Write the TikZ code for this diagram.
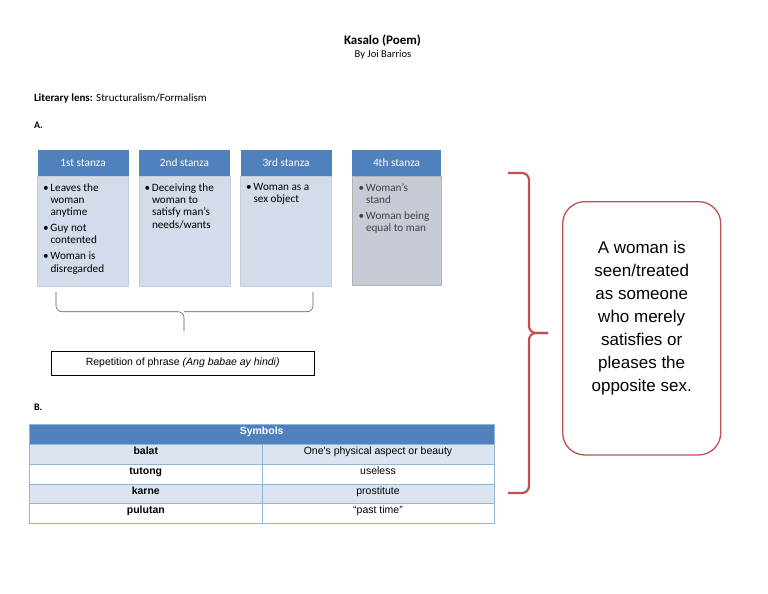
\documentclass[tikz,border=0pt]{standalone}
\usepackage{fontspec}
\setmainfont{Carlito}
\newfontfamily\tahoma{Liberation Sans}
\usetikzlibrary{positioning}
\definecolor{stanzablue}{HTML}{4F81BD}
\definecolor{stanzalight}{HTML}{D3DCEA}
\definecolor{stanzagray}{HTML}{C6CBD6}
\definecolor{symrow}{HTML}{DBE5F1}
\definecolor{symline}{HTML}{95B3D7}
\definecolor{bracered}{HTML}{C0504D}
\newcommand{\bul}{\makebox[7.5pt][l]{\textbullet}}
\newcommand{\stind}{\hspace*{7.5pt}}

\begin{document}
\begin{tikzpicture}[x=1pt,y=-1pt,node distance=10.5pt,inner sep=0pt,outer sep=0pt,
  stanzahead/.style={fill=stanzablue,text=white,minimum width=91pt,minimum height=26pt,font=\fontsize{11.3}{13}\selectfont},
  stanzabody/.style={fill=stanzalight,draw=stanzalight!85!gray,minimum width=91pt,minimum height=110pt},
  stanzatext/.style={anchor=north west,align=left,font=\fontsize{11.2}{12.3}\selectfont},
  symcell/.style={anchor=base,font=\tahoma\fontsize{10.5}{12}\selectfont},
  symword/.style={symcell,font=\tahoma\bfseries\fontsize{10.5}{12}\selectfont}]
\useasboundingbox (0,0) rectangle (768,594);

\node[anchor=base,font=\bfseries\fontsize{13}{15}\selectfont] (title) at (382.5,44.5) {Kasalo (Poem)};
\node[anchor=base,font=\fontsize{10.5}{12}\selectfont] (author) at (383,57.5) {By Joi Barrios};
\node[anchor=base west,font=\fontsize{11}{13}\selectfont] (lens) at (34,101) {\textbf{Literary lens:} Structuralism/Formalism};
\node[anchor=base west,font=\bfseries\fontsize{10}{12}\selectfont] (part_A) at (34,128.5) {A.};

\node[stanzahead,anchor=north west] (s_1) at (37.5,150) {1st stanza};
\node[stanzahead] [right=of s_1] (s_2) {2nd stanza};
\node[stanzahead] [right=of s_2] (s_3) {3rd stanza};
\node[stanzahead,minimum width=89pt] [right=20.5pt of s_3] (s_4) {4th stanza};
\node[stanzabody] [below=0pt of s_1] (b_1) {};
\node[stanzabody] [below=0pt of s_2] (b_2) {};
\node[stanzabody] [below=0pt of s_3] (b_3) {};
\node[stanzabody,fill=stanzagray,draw=gray!60,minimum width=89pt,minimum height=109pt] [below=0pt of s_4] (b_4) {};

\node[stanzatext] (t_1) at ([shift={(5.5,7.5)}]b_1.north west) {\bul Leaves the\\\stind woman\\\stind anytime\\[3.5pt]\bul Guy not\\\stind contented\\[3.5pt]\bul Woman is\\\stind disregarded};
\node[stanzatext] (t_2) at ([shift={(5.5,7.5)}]b_2.north west) {\bul Deceiving the\\\stind woman to\\\stind satisfy man’s\\\stind needs/wants};
\node[stanzatext] (t_3) at ([shift={(5.5,7.5)}]b_3.north west) {\bul Woman as a\\\stind sex object};
\node[stanzatext,text=black!75] (t_4) at ([shift={(6.5,7.5)}]b_4.north west) {\bul Woman’s\\\stind stand\\[3.5pt]\bul Woman being\\\stind equal to man};

\draw[black!65,line width=0.6pt,rounded corners=6pt] (56,292) -- (56,311.7) -- (184,311.7) -- (184,331);
\draw[black!65,line width=0.6pt,rounded corners=6pt] (313,292) -- (313,311.7) -- (184,311.7);

\node[draw,minimum width=263pt,minimum height=24pt,font=\tahoma\fontsize{10.5}{12}\selectfont] (rep) at (182.7,363) {Repetition of phrase \textit{(Ang babae ay hindi)}};

\node[anchor=base west,font=\bfseries\fontsize{10}{12}\selectfont] (part_B) at (34,410.5) {B.};

\fill[stanzablue] (29.3,424) rectangle (494,444.3);
\node[symword,text=white] (symhead) at (261.7,434) {Symbols};
\foreach \word/\gloss [count=\i] in {balat/One's physical aspect or beauty,tutong/useless,karne/prostitute,pulutan/“past time”}{
  \pgfmathsetmacro\rowtop{444.3+19.7*(\i-1)}
  \ifodd\i \fill[symrow] (29.3,\rowtop) rectangle (494,\rowtop+19.7); \fi
  \draw[symline] (29.3,\rowtop) -- (494,\rowtop);
  \node[symword] (w_\i) at (145.8,\rowtop+10.5) {\word};
  \node[symcell] (m_\i) at (378,\rowtop+10.5) {\gloss};
}
\draw[symline] (29.3,424) rectangle (494,523.1);
\draw[symline] (262.3,444.3) -- (262.3,523.1);

\draw[bracered,line width=2.2pt,rounded corners=7pt] (508,173) -- (529,173) -- (529,333) -- (548,333);
\draw[bracered,line width=2.2pt,rounded corners=7pt] (508,493) -- (529,493) -- (529,333) -- (548,333);

\node[draw=bracered,line width=1.3pt,rounded corners=22pt,minimum width=158pt,minimum height=253.3pt] (gist) at (641.7,328.3) {};
\node[anchor=north,align=center,font=\tahoma\fontsize{17}{23}\selectfont] (gist_text) at ([yshift=-39.8pt]gist.north) {A woman is\\seen/treated\\as someone\\who merely\\satisfies or\\pleases the\\opposite sex.};
\end{tikzpicture}
\end{document}
